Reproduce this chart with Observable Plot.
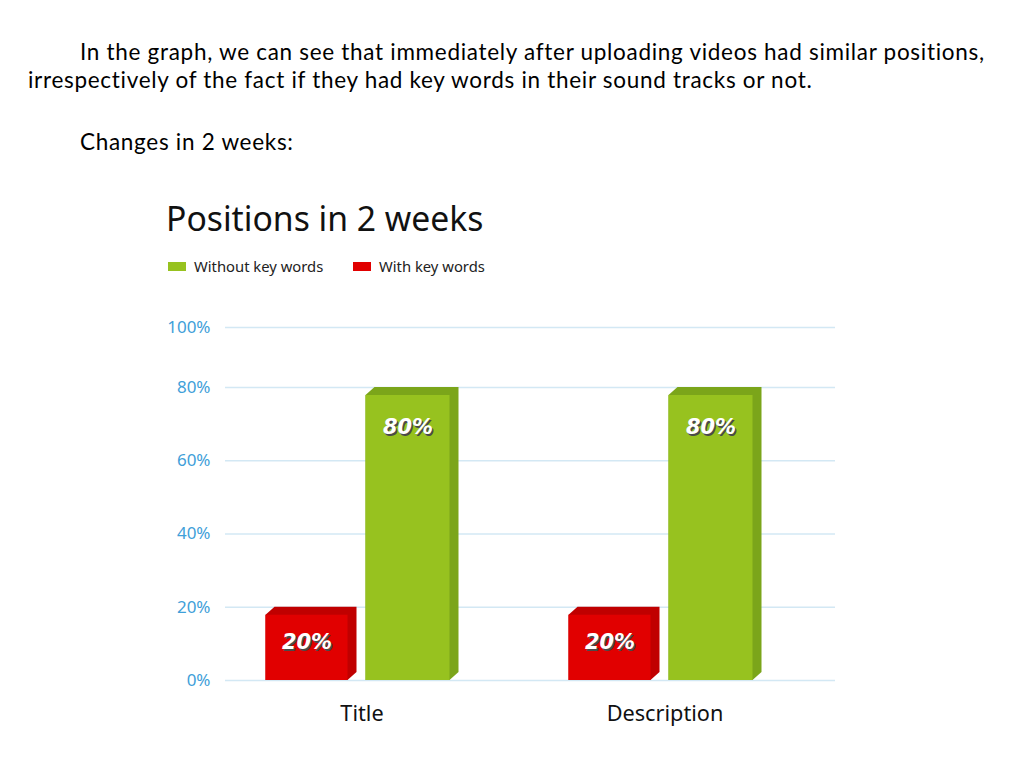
<!DOCTYPE html>
<html>
<head>
<meta charset="utf-8">
<script src="https://cdn.jsdelivr.net/npm/d3@7"></script>
<script src="https://cdn.jsdelivr.net/npm/@observablehq/plot@0.6"></script>
<style>
  html, body { margin: 0; padding: 0; background: #fff; width: 1024px; height: 767px; overflow: hidden; }
  .line { position: absolute; white-space: nowrap; font-family: "Lato", sans-serif; font-size: 22.5px; letter-spacing: 0.7px; color: #000; line-height: 1; }
  #title { position: absolute; left: 166px; top: 202px; font-family: "Noto Sans", sans-serif; font-size: 33.7px; color: #111; white-space: nowrap; line-height: 1; }
  .leg { position: absolute; top: 259px; font-family: "Noto Sans", sans-serif; font-size: 14.8px; color: #222; white-space: nowrap; line-height: 1; display: flex; align-items: center; }
  .sw { display: inline-block; width: 18px; height: 9px; margin-right: 8px; }
  #chart { position: absolute; left: 0; top: 300px; }
</style>
</head>
<body>
<div class="line" style="left:80px; top:41px;">In the graph, we can see that immediately after uploading videos had similar positions,</div>
<div class="line" style="left:28px; top:69px;">irrespectively of the fact if they had key words in their sound tracks or not.</div>
<div class="line" style="left:80px; top:131px;">Changes in 2 weeks:</div>
<div id="title">Positions in 2 weeks</div>
<div id="legend"></div>
<div id="chart"></div>
<script>
// ---- data ----
const categories = ["Title", "Description"];
const seriesNames = ["With key words", "Without key words"];
const legendOrder = ["Without key words", "With key words"];
const withKeyWords = [20, 20];
const withoutKeyWords = [80, 80];
const yTicks = [0, 20, 40, 60, 80, 100];

const frontColor = {"With key words": "#e10000", "Without key words": "#97c21f"};
const sideColor = {"With key words": "#c00000", "Without key words": "#7ba51a"};
// horizontal placement of each series inside a category band
const seriesInset = {
  "With key words": {left: 55.5, right: 165.5, dx: -55, dy: 35.5},
  "Without key words": {left: 155.5, right: 63.5, dx: 46, dy: 40}
};
const DEPTH_X = 9, DEPTH_Y = 8;

const data = [];
categories.forEach((c, i) => {
  data.push({category: c, series: "With key words", value: withKeyWords[i]});
  data.push({category: c, series: "Without key words", value: withoutKeyWords[i]});
});

// ---- legend ----
const legend = document.getElementById("legend");
const legendX = {"Without key words": 168, "With key words": 353};
legendOrder.forEach(s => {
  const d = document.createElement("div");
  d.className = "leg";
  d.style.left = legendX[s] + "px";
  d.innerHTML = `<span class="sw" style="background:${frontColor[s]}"></span>${s}`;
  legend.appendChild(d);
});

// ---- chart ----
const marks = [
  Plot.ruleY(yTicks, {stroke: "#d3e8f4", strokeWidth: 1.3})
];
seriesNames.forEach(s => {
  const sub = data.filter(d => d.series === s);
  const ins = seriesInset[s];
  // depth (top + side faces), shifted for the 3D effect
  marks.push(Plot.rectY(sub, {
    x: "category", y: "value", fill: sideColor[s],
    insetLeft: ins.left, insetRight: ins.right, insetBottom: DEPTH_Y, dx: DEPTH_X
  }));
  // front face
  marks.push(Plot.rectY(sub, {
    x: "category", y: "value", fill: frontColor[s],
    insetLeft: ins.left, insetRight: ins.right, insetTop: DEPTH_Y
  }));
  // value labels with a shadow
  marks.push(Plot.text(sub, {
    x: "category", y: "value", text: d => d.value + "%",
    dx: ins.dx + 1.5, dy: ins.dy + 1.5, fill: "#4a4a4a",
    fontSize: 21, fontWeight: 900, fontStyle: "italic", fontFamily: "DejaVu Sans"
  }));
  marks.push(Plot.text(sub, {
    x: "category", y: "value", text: d => d.value + "%",
    dx: ins.dx, dy: ins.dy, fill: "#fff",
    fontSize: 21, fontWeight: 900, fontStyle: "italic", fontFamily: "DejaVu Sans"
  }));
});
marks.push(Plot.axisY({ticks: yTicks, tickSize: 0, tickPadding: 15, tickFormat: d => d + "%", fontSize: 17, fill: "#3fa0d9", fontFamily: "Noto Sans"}));
marks.push(Plot.axisX({tickSize: 0, tickPadding: 25, fontSize: 21.7, fill: "#111", fontFamily: "Noto Sans", lineAnchor: "top"}));

const plot = Plot.plot({
  width: 1024,
  height: 440,
  marginLeft: 225,
  marginRight: 189,
  marginTop: 0,
  marginBottom: 60,
  style: {background: "transparent", overflow: "visible"},
  x: {type: "band", domain: categories, range: [209.5, 815.5], padding: 0, label: null},
  y: {type: "linear", domain: [0, 80, 100], range: [380, 87, 27], label: null},
  marks
});

// turn each depth rectangle into the bevelled top+side outline of a 3D box
const depthFills = Object.values(sideColor).map(c => c.toLowerCase());
const depthRects = [];
plot.querySelectorAll("rect").forEach(rect => {
  let el = rect, fill = null;
  while (el && el !== plot && !fill) { fill = el.getAttribute("fill"); el = el.parentNode; }
  if (fill && depthFills.includes(fill.toLowerCase())) depthRects.push(rect);
});
depthRects.forEach(rect => {
  const x = +rect.getAttribute("x"), y = +rect.getAttribute("y");
  const w = +rect.getAttribute("width"), h = +rect.getAttribute("height");
  const pts = [
    [x - DEPTH_X, y + DEPTH_Y], [x, y], [x + w, y], [x + w, y + h],
    [x + w - DEPTH_X, y + h + DEPTH_Y], [x - DEPTH_X, y + h + DEPTH_Y]
  ];
  const p = document.createElementNS("http://www.w3.org/2000/svg", "path");
  p.setAttribute("d", "M" + pts.map(q => q.join(",")).join("L") + "Z");
  for (const a of ["fill", "transform"]) if (rect.getAttribute(a)) p.setAttribute(a, rect.getAttribute(a));
  rect.parentNode.replaceChild(p, rect);
});
document.getElementById("chart").appendChild(plot);
</script>
</body>
</html>
